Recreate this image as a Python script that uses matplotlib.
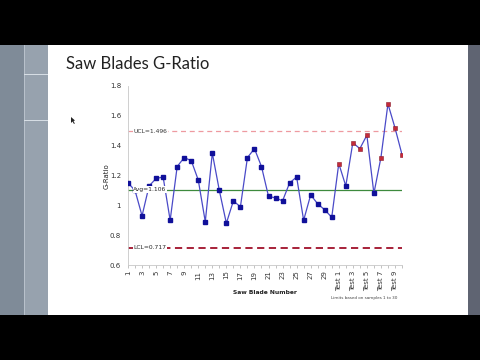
import matplotlib
matplotlib.use("Agg")
import matplotlib.pyplot as plt
from matplotlib.patches import Rectangle, Polygon

# ---- data ----
categories = [str(i) for i in range(1, 31)] + [f"Test {i}" for i in range(1, 11)]
values = [1.15, 1.10, 0.93, 1.13, 1.18, 1.19, 0.90, 1.26, 1.32, 1.30,
          1.17, 0.89, 1.35, 1.10, 0.88, 1.03, 0.99, 1.32, 1.38, 1.26,
          1.06, 1.05, 1.03, 1.15, 1.19, 0.90, 1.07, 1.01, 0.97, 0.92,
          1.28, 1.13, 1.42, 1.38, 1.47, 1.08, 1.32, 1.68, 1.52, 1.34]
flagged = [False] * 30 + [True, False, True, True, True, False, True, True, True, True]
ucl = 1.496
avg = 1.106
lcl = 0.717
yticks = [0.6, 0.8, 1.0, 1.2, 1.4, 1.6, 1.8]
ytick_labels = ["0.6", "0.8", "1", "1.2", "1.4", "1.6", "1.8"]

W, H = 480, 360
fig = plt.figure(figsize=(4.8, 3.6), dpi=100)
fig.patch.set_facecolor("white")

def box(x0, y0, x1, y1, color, z=0):
    fig.patches.append(Rectangle((x0 / W, 1 - y1 / H), (x1 - x0) / W, (y1 - y0) / H,
                                 transform=fig.transFigure, facecolor=color,
                                 edgecolor="none", zorder=z))

# slide background pieces
box(0, 0, 480, 45, "black")
box(0, 315, 480, 360, "black")
box(0, 45, 24, 315, "#7f8b98")
box(24, 45, 48, 315, "#97a2ae")
box(24, 45, 25, 315, "#b8c1cb")
box(24, 73.5, 48, 75, "#d6dde4")
box(24, 119.5, 48, 121, "#d6dde4")
box(468, 45, 480, 315, "#5f6472")

# mouse cursor
cur = [(71, 117), (71, 123), (72.5, 121.5), (74, 124), (74.8, 123.5), (73.5, 121), (75, 120.5)]
fig.patches.append(Polygon([(px / W, 1 - py / H) for px, py in cur], closed=True,
                           transform=fig.transFigure, facecolor="#222222",
                           edgecolor="none"))

fig.text(66 / W, 1 - 64 / H, "Saw Blades G-Ratio", fontsize=12, family="Lato",
         color="#222222", va="center", ha="left")

# ---- chart ----
ax = fig.add_axes([128 / W, 1 - 265 / H, 274 / W, 179 / H])
n = len(values)
x = list(range(n))
ax.set_xlim(0, n - 1)
ax.set_ylim(0.6, 1.8)

ax.plot([0, n - 1], [ucl, ucl], color="#ee9aa0", lw=0.9, ls=(0, (4, 3)), zorder=2)
ax.plot([0, n - 1], [lcl, lcl], color="#a0102a", lw=1.3, ls=(0, (4, 2.5)), zorder=2)
ax.plot([0, n - 1], [avg, avg], color="#3d8a3d", lw=0.9, zorder=2)

ax.plot(x, values, color="#4a4ac8", lw=0.9, zorder=3)
bx = [i for i in x if not flagged[i]]
rx = [i for i in x if flagged[i]]
ax.plot(bx, [values[i] for i in bx], ls="none", marker="s", ms=3.0,
        mfc="#10109a", mec="#10109a", zorder=4)
ax.plot(rx, [values[i] for i in rx], ls="none", marker="s", ms=3.0,
        mfc="#c42a3a", mec="#8a1a2a", mew=0.4, zorder=4)

lab = dict(fontsize=4.3, color="#222222", va="center", ha="left", zorder=5,
           bbox=dict(facecolor="white", edgecolor="none", pad=0.5))
ax.text(0.75, ucl, "UCL=1.496", **{**lab, "color": "#333333"})
ax.text(0.75, avg, "Avg=1.106", **lab)
ax.text(0.75, lcl, "LCL=0.717", **lab)

ax.set_yticks(yticks)
ax.set_yticklabels(ytick_labels)
ax.set_xticks(x[::2])
ax.set_xticklabels(categories[::2], rotation=90)
ax.set_xticks(x, minor=True)
ax.tick_params(axis="y", labelsize=5, length=0, pad=5, colors="#333333")
ax.tick_params(axis="x", which="both", labelsize=5, length=2.5, width=0.5,
               color="#aaaaaa", labelcolor="#333333", pad=1.5)
for s in ["top", "right"]:
    ax.spines[s].set_visible(False)
ax.spines["left"].set_color("#c8c8c8")
ax.spines["bottom"].set_color("#c8c8c8")
ax.spines["left"].set_linewidth(0.6)
ax.spines["bottom"].set_linewidth(0.6)

fig.text(107 / W, 1 - 176 / H, "G-Ratio", rotation=90, fontsize=5,
         color="#222222", va="center", ha="center")
fig.text(265 / W, 1 - 293 / H, "Saw Blade Number", fontsize=4.3, weight="bold",
         color="#222222", va="center", ha="center")
fig.text(397 / W, 1 - 298 / H, "Limits based on samples 1 to 30", fontsize=3.0,
         color="#444444", va="center", ha="right")

fig.savefig("out.png", dpi=100)
